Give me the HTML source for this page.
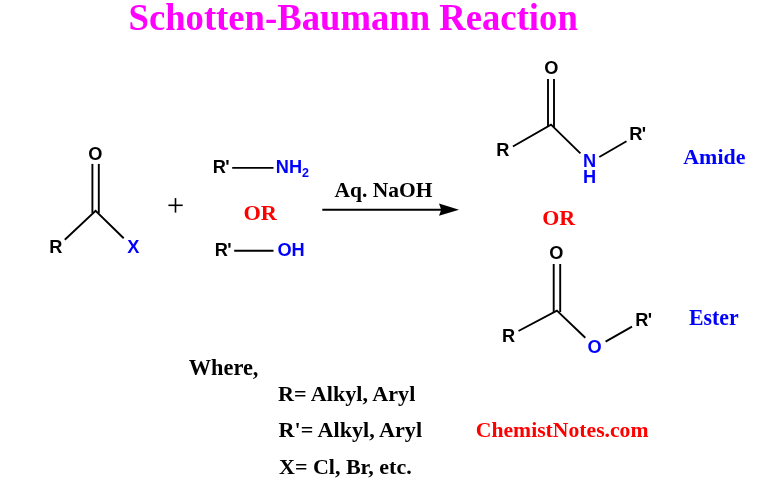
<!DOCTYPE html>
<html><head><meta charset="utf-8">
<style>
html,body{margin:0;padding:0;background:#fff;width:768px;height:496px;overflow:hidden}
svg{display:block;will-change:transform;filter:blur(0.35px)}
.s{font-family:"Liberation Sans",sans-serif;font-weight:bold}
.t{font-family:"Liberation Serif",serif;font-weight:bold}
</style></head><body>
<svg width="768" height="496" viewBox="0 0 768 496">
<rect width="768" height="496" fill="#fff"/>
<!-- title -->
<text class="t" x="128.5" y="30.1" font-size="37" fill="#ff00ff" textLength="449.3" lengthAdjust="spacingAndGlyphs">Schotten-Baumann Reaction</text>

<g stroke="#000" stroke-width="1.9" fill="none" stroke-linecap="butt" stroke-linejoin="miter">
  <!-- acyl halide -->
  <line x1="92.4" y1="163.9" x2="92.4" y2="213"/>
  <line x1="98.8" y1="163.9" x2="98.8" y2="213"/>
  <polyline points="64.8,239.8 95.6,210.8 123.7,238.3"/>
  <!-- R'-NH2, R'-OH -->
  <line x1="232.2" y1="167.9" x2="273.5" y2="167.9"/>
  <line x1="234.2" y1="250.8" x2="273.5" y2="250.8"/>
  <!-- plus -->
  <line x1="168.4" y1="205.3" x2="182.7" y2="205.3" stroke-width="1.6"/>
  <line x1="175.5" y1="198.1" x2="175.5" y2="212.6" stroke-width="1.6"/>
  <!-- arrow -->
  <line x1="322.3" y1="209.7" x2="445" y2="209.7"/>
  <!-- amide -->
  <line x1="548" y1="79" x2="548" y2="127"/>
  <line x1="554" y1="79" x2="554" y2="127"/>
  <polyline points="512.9,146.5 551,124.6 580.4,153.4"/>
  <line x1="599.3" y1="157" x2="626.5" y2="141.2"/>
  <!-- ester -->
  <line x1="553.7" y1="264" x2="553.7" y2="312"/>
  <line x1="560.2" y1="264" x2="560.2" y2="312"/>
  <polyline points="518.5,331 556.9,310.6 585.3,337.8"/>
  <line x1="605.6" y1="341.7" x2="632" y2="326.7"/>
</g>
<path d="M459 209.7 L439 203.6 L441.2 209.7 L439 215.8 Z" fill="#000"/>

<g class="s" font-size="18.2" fill="#000">
  <text x="88.2" y="160.2">O</text>
  <text x="49.3" y="253.3">R</text>
  <text x="212.8" y="172.9">R<tspan dx="-0.6">'</tspan></text>
  <text x="214.8" y="255.6">R<tspan dx="-0.6">'</tspan></text>
  <text x="544.2" y="73.8">O</text>
  <text x="496.2" y="156.3">R</text>
  <text x="629.2" y="140.1">R<tspan dx="-0.6">'</tspan></text>
  <text x="549.2" y="259">O</text>
  <text x="502.1" y="342">R</text>
  <text x="635.2" y="325.8">R<tspan dx="-0.6">'</tspan></text>
</g>
<g class="s" font-size="18.2" fill="#0000ff">
  <text x="127.2" y="253.2">X</text>
  <text x="275.8" y="172.9">NH<tspan font-size="12.5" dy="4.3">2</tspan></text>
  <text x="277.4" y="255.6">OH</text>
  <text x="583" y="166.5">N</text>
  <text x="583" y="182.9">H</text>
  <text x="587.5" y="352.5">O</text>
</g>
<g class="t" fill="#ff0000">
  <text x="243.4" y="220" font-size="21" textLength="33.5" lengthAdjust="spacingAndGlyphs">OR</text>
  <text x="542.2" y="225" font-size="21" textLength="32.9" lengthAdjust="spacingAndGlyphs">OR</text>
  <text x="475.8" y="436.5" font-size="21.5" textLength="172.7" lengthAdjust="spacingAndGlyphs">ChemistNotes.com</text>
</g>
<g class="t" fill="#0000ff">
  <text x="683.3" y="163.7" font-size="21" textLength="62.1" lengthAdjust="spacingAndGlyphs">Amide</text>
  <text x="689.1" y="325.2" font-size="22.2" textLength="49.6" lengthAdjust="spacingAndGlyphs">Ester</text>
</g>
<g class="t" fill="#000">
  <text x="334.4" y="197.3" font-size="21" textLength="98" lengthAdjust="spacingAndGlyphs">Aq. NaOH</text>
  <text x="188.8" y="374.7" font-size="22.2" textLength="69.6" lengthAdjust="spacingAndGlyphs">Where,</text>
  <text x="278" y="400.7" font-size="21.7" textLength="137.3" lengthAdjust="spacingAndGlyphs">R= Alkyl, Aryl</text>
  <text x="278.5" y="436.5" font-size="21.7" textLength="143.6" lengthAdjust="spacingAndGlyphs">R'= Alkyl, Aryl</text>
  <text x="279" y="473.5" font-size="21.7" textLength="132.7" lengthAdjust="spacingAndGlyphs">X= Cl, Br, etc.</text>
</g>
</svg>
</body></html>
